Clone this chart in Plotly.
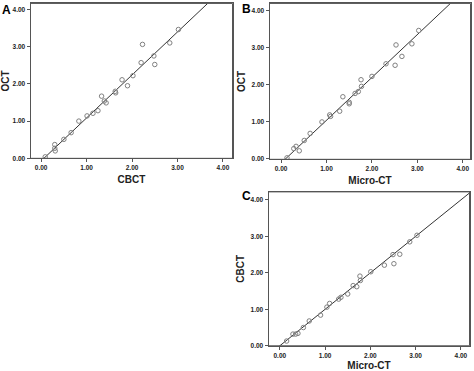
import plotly.graph_objects as go

# Panel A: CBCT (x) vs OCT (y)
a_cbct = [0.09, 0.30, 0.30, 0.31, 0.50, 0.66, 0.83, 1.01, 1.14, 1.25, 1.33, 1.39, 1.43,
          1.63, 1.64, 1.78, 1.90, 2.02, 2.20, 2.23, 2.48, 2.50, 2.83, 3.02]
a_oct = [0.04, 0.37, 0.27, 0.20, 0.51, 0.69, 1.00, 1.14, 1.21, 1.28, 1.67, 1.54, 1.49,
         1.80, 1.76, 2.11, 1.95, 2.22, 2.57, 3.06, 2.75, 2.52, 3.10, 3.46]
a_fit = (-0.07, 1.155)  # intercept, slope

# Panel B: Micro-CT (x) vs OCT (y)
b_micro = [0.13, 0.28, 0.33, 0.40, 0.51, 0.64, 0.90, 1.07, 1.09, 1.29, 1.36, 1.50, 1.50,
           1.63, 1.70, 1.76, 1.77, 2.00, 2.31, 2.51, 2.53, 2.66, 2.88, 3.03]
b_oct = [0.03, 0.28, 0.34, 0.22, 0.50, 0.69, 1.00, 1.19, 1.15, 1.29, 1.68, 1.53, 1.49,
         1.77, 1.82, 2.14, 1.96, 2.23, 2.57, 2.53, 3.08, 2.77, 3.11, 3.47]
b_fit = (-0.112, 1.157)

# Panel C: Micro-CT (x) vs CBCT (y)
c_micro = [0.15, 0.29, 0.35, 0.40, 0.52, 0.65, 0.90, 1.04, 1.10, 1.30, 1.35, 1.50, 1.62,
           1.70, 1.77, 1.78, 2.01, 2.31, 2.50, 2.52, 2.65, 2.87, 3.03]
c_cbct = [0.13, 0.32, 0.32, 0.34, 0.50, 0.68, 0.84, 1.06, 1.16, 1.28, 1.33, 1.42, 1.65,
          1.62, 1.91, 1.79, 2.03, 2.21, 2.50, 2.25, 2.51, 2.85, 3.03]
c_fit = (0.0, 1.0)

tick_vals = [0, 1, 2, 3, 4]
tick_text = ["0.00", "1.00", "2.00", "3.00", "4.00"]

panels = [
    dict(x=a_cbct, y=a_oct, fit=a_fit, xr=[-0.234, 4.21], yr=[0.0, 4.16],
         dx=[30.5/474, 232.5/474], dy=[1-160.5/371, 1-3.5/371], xt="CBCT", yt="OCT", letter="A",
         lx=0/474, ly=1-1/371),
    dict(x=b_micro, y=b_oct, fit=b_fit, xr=[-0.255, 4.17], yr=[-0.01, 4.2],
         dx=[269.5/474, 470.5/474], dy=[1-161.5/371, 1-3.5/371], xt="Micro-CT", yt="OCT",
         letter="B", lx=240/474, ly=1-0/371),
    dict(x=c_micro, y=c_cbct, fit=c_fit, xr=[-0.25, 4.19], yr=[0.0, 4.22],
         dx=[268.5/474, 469.5/474], dy=[1-350.5/371, 1-194.5/371], xt="Micro-CT", yt="CBCT",
         letter="C", lx=240/474, ly=1-190/371),
]

font_fam = "Arial, Liberation Sans, sans-serif"
fig = go.Figure()
annotations = []
shapes = []
for i, p in enumerate(panels, start=1):
    xa = "x" if i == 1 else f"x{i}"
    ya = "y" if i == 1 else f"y{i}"
    b0, b1 = p["fit"]
    lx = [p["xr"][0], p["xr"][1]]
    ly = [b0 + b1 * v for v in lx]
    fig.add_trace(go.Scatter(x=lx, y=ly, mode="lines", xaxis=xa, yaxis=ya,
                             line=dict(color="#333333", width=1), showlegend=False,
                             hoverinfo="skip"))
    fig.add_trace(go.Scatter(x=p["x"], y=p["y"], mode="markers", xaxis=xa, yaxis=ya,
                             marker=dict(symbol="circle-open", size=4.5, color="#808080",
                                         line=dict(width=1)),
                             showlegend=False))
    axis_common = dict(showgrid=False, zeroline=False, showline=True, mirror=True,
                       linecolor="#555555", linewidth=1, ticks="outside", ticklen=3,
                       tickcolor="#555555", tickvals=tick_vals, ticktext=tick_text,
                       tickfont=dict(family=font_fam, size=6.5, color="#222222",
                                     weight="bold"))
    fig.update_layout(**{
        ("xaxis" if i == 1 else f"xaxis{i}"): dict(
            axis_common, domain=p["dx"], range=p["xr"], anchor=ya,
            title=dict(text=p["xt"], standoff=5,
                       font=dict(family=font_fam, size=10, color="#222222",
                                 weight="bold"))),
        ("yaxis" if i == 1 else f"yaxis{i}"): dict(
            axis_common, domain=p["dy"], range=p["yr"], anchor=xa,
            title=dict(text=p["yt"], standoff=4,
                       font=dict(family=font_fam, size=10, color="#222222",
                                 weight="bold"))),
    })
    shapes.append(dict(type="rect", xref=f"{xa} domain", yref=f"{ya} domain",
                       x0=0, x1=1, y0=0, y1=1, line=dict(color="#555555", width=1),
                       fillcolor="rgba(0,0,0,0)", layer="above"))
    annotations.append(dict(text=p["letter"], x=p["lx"], y=p["ly"], xref="paper", yref="paper",
                            xanchor="left", yanchor="top", showarrow=False,
                            font=dict(family=font_fam, size=12, color="#000000",
                                      weight="bold")))

fig.update_layout(width=474, height=371, margin=dict(l=0, r=0, t=0, b=0),
                  paper_bgcolor="white", plot_bgcolor="white",
                  annotations=annotations, shapes=shapes)

fig.write_html("out.html", config={"displayModeBar": False},
               post_script="document.body.style.margin='0';document.body.style.overflow='hidden';")
